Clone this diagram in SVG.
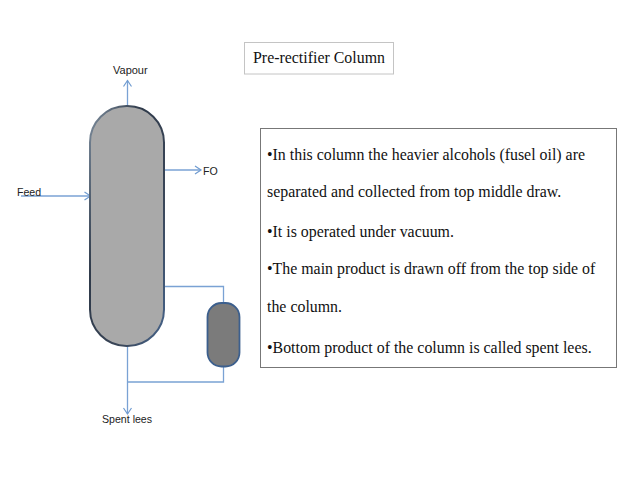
<svg xmlns="http://www.w3.org/2000/svg" width="638" height="478" viewBox="0 0 638 478">
<style>
.c{fill:none;stroke:#7aa2d4;stroke-width:1.300}
.a{font-family:"Liberation Sans",Arial,sans-serif;font-size:10.600px;fill:#222}
.t{font-family:"Liberation Serif","Times New Roman",serif;font-size:15.900px;fill:#111}
</style>
<defs>
<marker id="ah" markerWidth="9" markerHeight="10" refX="7.500" refY="5" orient="auto" markerUnits="userSpaceOnUse"><path d="M1.500 1L7.500 5L1.500 9" fill="none" stroke="#6f9bd0" stroke-width="1.200"/></marker>
<linearGradient id="edge" x1="0" y1="0" x2="1" y2="1"><stop offset="0" stop-color="#7f8f9f"/><stop offset="0.35" stop-color="#2f3a4a"/><stop offset="0.7" stop-color="#3a4658"/><stop offset="1" stop-color="#46648c"/></linearGradient>
</defs>
<rect width="638" height="478" fill="#fff"/>
<g id="connectors">
<path class="c" marker-end="url(#ah)" d="M127.500 106V80.500"/>
<path class="c" marker-end="url(#ah)" d="M165 170H201"/>
<path class="c" marker-end="url(#ah)" d="M21 196H90.500"/>
<path class="c" d="M165 286.500H223.500V303"/>
<path class="c" marker-end="url(#ah)" d="M127.500 346V414"/>
<path class="c" d="M223.500 366V382H127.500"/>
</g>
<g id="column"><rect x="90" y="106" width="74" height="240" rx="36.500" fill="#a9a9a9" stroke="url(#edge)" stroke-width="2"/></g>
<g id="vessel"><rect x="207.500" y="303" width="32" height="63.500" rx="14" fill="#7b7b7b" stroke="#3c5f8d" stroke-width="1.800"/></g>
<g id="vapour"><text class="a" style="font-size:11px" x="113" y="73.500">Vapour</text></g>
<g id="fo"><text class="a" x="203" y="175">FO</text></g>
<g id="feed"><text class="a" x="17" y="195.500">Feed</text></g>
<g id="spent"><text class="a" x="102" y="423">Spent lees</text></g>
<g id="title"><rect x="244.500" y="42.500" width="149" height="31.500" fill="#fff" stroke="#c4c4c4"/><text class="t" x="253" y="63">Pre-rectifier Column</text></g>
<g id="notes"><rect x="260.500" y="128.500" width="356" height="239" fill="#fff" stroke="#777"/>
<text class="t" x="267" y="160">•In this column the heavier alcohols (fusel oil) are</text>
<text class="t" x="267" y="197">separated and collected from top middle draw.</text>
<text class="t" x="267" y="237">•It is operated under vacuum.</text>
<text class="t" x="267" y="274">•The main product is drawn off from the top side of</text>
<text class="t" x="267" y="312">the column.</text>
<text class="t" x="267" y="352.500">•Bottom product of the column is called spent lees.</text></g>
</svg>
